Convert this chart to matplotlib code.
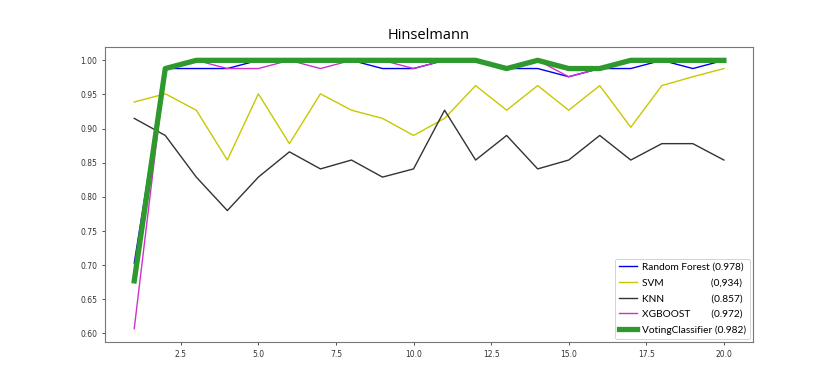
import numpy as np
import matplotlib
matplotlib.use('Agg')
import matplotlib.pyplot as plt
from matplotlib.font_manager import FontProperties

# Anzahl der Durchlaeufe
runs = list(range(1, 21))

rf = [0.703, 0.988, 0.988, 0.988, 1.0, 1.0, 1.0, 1.0, 0.988, 0.988,
      1.0, 1.0, 0.988, 0.988, 0.976, 0.988, 0.988, 1.0, 0.988, 1.0]
svm = [0.939, 0.951, 0.927, 0.854, 0.951, 0.878, 0.951, 0.927, 0.915, 0.890,
       0.915, 0.963, 0.927, 0.963, 0.927, 0.963, 0.902, 0.963, 0.976, 0.988]
knn = [0.915, 0.890, 0.829, 0.780, 0.829, 0.866, 0.841, 0.854, 0.829, 0.841,
       0.927, 0.854, 0.890, 0.841, 0.854, 0.890, 0.854, 0.878, 0.878, 0.854]
xgb = [0.607, 0.988, 1.0, 0.988, 0.988, 1.0, 0.988, 1.0, 1.0, 0.988,
       1.0, 1.0, 0.988, 1.0, 0.976, 0.988, 1.0, 1.0, 1.0, 1.0]
vote = [0.677, 0.988, 1.0, 1.0, 1.0, 1.0, 1.0, 1.0, 1.0, 1.0,
        1.0, 1.0, 0.988, 1.0, 0.988, 0.988, 1.0, 1.0, 1.0, 1.0]

names = ['Random Forest', 'SVM', 'KNN', 'XGBOOST', 'VotingClassifier']
scores = ['(0.978)', '(0,934)', '(0.857)', '(0.972)', '(0.982)']

fig = plt.figure(figsize=(8.38, 3.91), dpi=100)
ax = fig.add_axes([0.125, 0.125, 0.774, 0.755])

# Legendentexte mit Leerzeichen auf gleiche Breite bringen
fp = FontProperties(family='Lato', size=7.3)
rend = fig.canvas.get_renderer()
def breite(t):
    return rend.get_text_width_height_descent(t, fp, ismath=False)[0]
ziel = breite(names[0] + ' ' + scores[0])
labels = []
for n, s in zip(names, scores):
    t = n + ' '
    while breite(t + ' ' + s) <= ziel:
        t += ' '
    labels.append(t + s)

ax.plot(runs, rf, color='#0000ee', lw=1.0, label=labels[0])
ax.plot(runs, svm, color='#c8c800', lw=1.0, label=labels[1])
ax.plot(runs, knn, color='#333333', lw=1.0, label=labels[2])
ax.plot(runs, xgb, color='#d030d0', lw=1.0, label=labels[3])
ax.plot(runs, vote, color='#2e9a2e', lw=3.8, label=labels[4])

ax.set_title('Hinselmann', fontsize=10.5, family='Open Sans')
ax.tick_params(labelsize=5.5, length=2, width=0.6, colors='#333333')
ax.set_yticks(np.arange(0.60, 1.001, 0.05))
ax.yaxis.set_major_formatter(plt.FormatStrFormatter('%.2f'))
for s in ax.spines.values():
    s.set_color('#777777')
    s.set_linewidth(0.8)

leg = ax.legend(loc='lower right', prop=fp,
                handlelength=1.8, handletextpad=0.5, borderpad=0.4,
                labelspacing=0.65, borderaxespad=0.3,
                fancybox=True, framealpha=1.0)
leg.get_frame().set_linewidth(0.6)

plt.savefig('out.png', dpi=100)
